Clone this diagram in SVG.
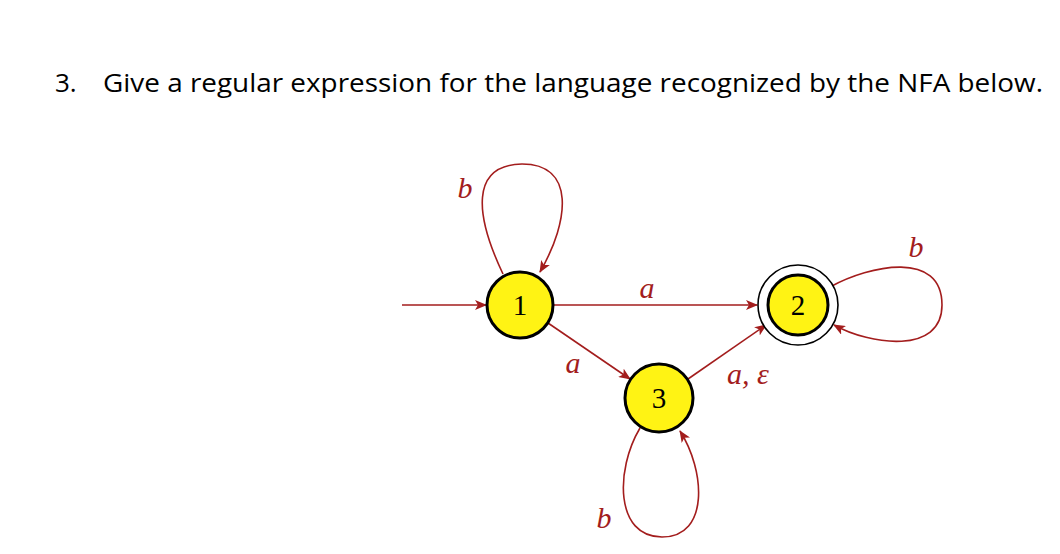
<svg xmlns="http://www.w3.org/2000/svg" width="1060" height="554" viewBox="0 0 1060 554">
<defs>
<style>
.edge{fill:none;stroke:#a31d1d;stroke-width:1.6}
.node{fill:#fff314;stroke:#000;stroke-width:3}
.nl{font-family:"Liberation Serif",serif;font-size:29px;fill:#000;text-anchor:middle}
.el{font-family:"Liberation Serif",serif;font-style:italic;font-size:30px;fill:#a31d1d;text-anchor:middle}
.title{font-family:"Open Sans","Liberation Sans",sans-serif;font-size:26px;fill:#000}
</style>
<marker id="ah" viewBox="0 0 12 10" refX="11" refY="5" markerWidth="12" markerHeight="10" markerUnits="userSpaceOnUse" orient="auto">
<path d="M0,0 L12,5 L0,10 L3,5 Z" fill="#a31d1d"/>
</marker>
</defs>
<rect width="1060" height="554" fill="#fff"/>
<text class="title" x="55" y="92">3.</text>
<text class="title" x="103" y="92" textLength="940" lengthAdjust="spacingAndGlyphs">Give a regular expression for the language recognized by the NFA below.</text>
<g id="connectors">
<line class="edge" x1="402" y1="305" x2="486" y2="305" marker-end="url(#ah)"/>
<line class="edge" x1="553" y1="305" x2="757" y2="305" marker-end="url(#ah)"/>
<line class="edge" x1="548" y1="323" x2="630" y2="379" marker-end="url(#ah)"/>
<line class="edge" x1="688" y1="379" x2="766" y2="325" marker-end="url(#ah)"/>
<path class="edge" d="M503,274 C475,215 470,165 522,164 C575,164 570,220 540,272" marker-end="url(#ah)"/>
<path class="edge" d="M830,287 C870,265 942,250 942,305 C942,355 870,345 834,325" marker-end="url(#ah)"/>
<path class="edge" d="M640,428 C615,470 615,537 662,537 C710,537 705,470 680,431" marker-end="url(#ah)"/>
<text class="el" x="465" y="198">b</text>
<text class="el" x="647" y="298">a</text>
<text class="el" x="573" y="373">a</text>
<text class="el" x="748" y="384">a, ε</text>
<text class="el" x="916" y="257">b</text>
<text class="el" x="604" y="528">b</text>
</g>
<g id="node1">
<circle class="node" cx="520" cy="305" r="33"/>
<text class="nl" x="520" y="315">1</text>
</g>
<g id="node2">
<circle cx="798" cy="305" r="40" fill="#fff" stroke="#000" stroke-width="1.6"/>
<circle class="node" cx="798" cy="305" r="30" stroke-width="2.2"/>
<text class="nl" x="798" y="315">2</text>
</g>
<g id="node3">
<circle class="node" cx="659" cy="398" r="34"/>
<text class="nl" x="659" y="408">3</text>
</g>
</svg>
